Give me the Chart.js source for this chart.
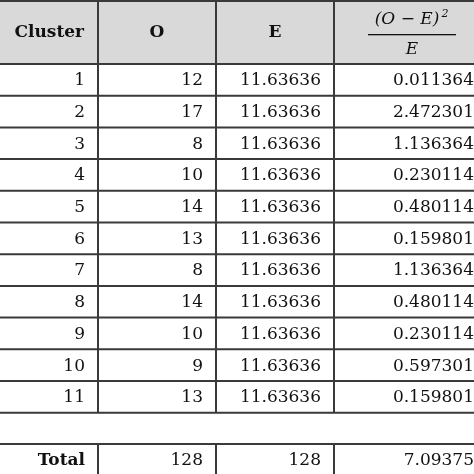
<!DOCTYPE html>
<html>
<head>
<meta charset="utf-8">
<script src="https://cdn.jsdelivr.net/npm/chart.js@4/dist/chart.umd.min.js"></script>
<style>html,body{margin:0;padding:0;background:#fff}</style>
</head>
<body>
<canvas id="tbl" width="474" height="474"></canvas>
<script>
// table data
const clusters = ["1","2","3","4","5","6","7","8","9","10","11"];
const observed = [12, 17, 8, 10, 14, 13, 8, 14, 10, 9, 13];
const expected = ["11.63636","11.63636","11.63636","11.63636","11.63636","11.63636","11.63636","11.63636","11.63636","11.63636","11.63636"];
const chiParts = ["0.011364","2.472301","1.136364","0.230114","0.480114","0.159801","1.136364","0.480114","0.230114","0.597301","0.159801"];
const totals = ["Total", "128", "128", "7.09375"];
const headers = ["Cluster", "O", "E"];

// grid in scale units
const colEdges = [0, 98, 216, 334, 490];
const headerBottom = 64;
const rowH = 31.7;
const totalTop = 444;

const tablePlugin = {
  id: "table",
  afterDraw(chart) {
    const c = chart.ctx, xs = chart.scales.x, ys = chart.scales.y;
    const X = v => xs.getPixelForValue(v), Y = v => ys.getPixelForValue(v);
    const lastRow = headerBottom + rowH * clusters.length;

    c.save();
    c.fillStyle = "#d9d9d9";
    c.fillRect(X(0), Y(1), X(474) - X(0), Y(headerBottom) - Y(1));

    // horizontal lines
    c.strokeStyle = "#3a3a3a";
    c.lineWidth = 2;
    const hl = [1, headerBottom];
    for (let i = 1; i <= clusters.length; i++) hl.push(headerBottom + rowH * i);
    hl.push(totalTop);
    c.beginPath();
    hl.forEach(y => { c.moveTo(X(0), Y(y)); c.lineTo(X(474), Y(y)); });
    // vertical lines
    colEdges.slice(1, 4).forEach(x => {
      c.moveTo(X(x), Y(1)); c.lineTo(X(x), Y(lastRow));
      c.moveTo(X(x), Y(totalTop)); c.lineTo(X(x), Y(474));
    });
    c.stroke();

    // header text
    c.fillStyle = "#111";
    c.textBaseline = "middle";
    c.font = "bold 17px 'DejaVu Serif'";
    c.textAlign = "right";
    c.fillText(headers[0], X(colEdges[1] - 14), Y(headerBottom / 2 + 1));
    c.textAlign = "center";
    c.fillText(headers[1], X((colEdges[1] + colEdges[2]) / 2), Y(headerBottom / 2 + 1));
    c.fillText(headers[2], X((colEdges[2] + colEdges[3]) / 2), Y(headerBottom / 2 + 1));
    // fraction
    const fx = X(412);
    c.font = "italic 17px 'DejaVu Serif'";
    c.fillText("(O \u2212 E)", fx - 5, Y(20));
    c.font = "italic 11px 'DejaVu Serif'";
    c.fillText("2", fx + 33, Y(14));
    c.fillRect(fx - 44, Y(34), 88, 1.3);
    c.font = "italic 17px 'DejaVu Serif'";
    c.fillText("E", fx, Y(50));

    // body rows
    c.font = "17px 'DejaVu Serif'";
    c.textAlign = "right";
    const drawRow = (cells, yc) => {
      cells.forEach((t, j) => {
        const pad = j === 3 ? 16 : 13;
        c.fillText(t, X(colEdges[j + 1] - pad), Y(yc));
      });
    };
    clusters.forEach((cl, i) => {
      drawRow([cl, String(observed[i]), expected[i], chiParts[i]], headerBottom + rowH * (i + 0.5) + 1);
    });
    c.font = "bold 17px 'DejaVu Serif'";
    c.fillText(totals[0], X(colEdges[1] - 13), Y(totalTop + 17));
    c.font = "17px 'DejaVu Serif'";
    drawRow(["", totals[1], totals[2], totals[3]], totalTop + 17);
    c.restore();
  }
};

new Chart(document.getElementById("tbl").getContext("2d"), {
  type: "scatter",
  data: { datasets: [{ data: [] }] },
  options: {
    responsive: false,
    animation: false,
    layout: { padding: 0 },
    plugins: { legend: { display: false }, tooltip: { enabled: false } },
    scales: {
      x: { type: "linear", min: 0, max: 474, display: false },
      y: { type: "linear", min: 0, max: 474, reverse: true, display: false }
    }
  },
  plugins: [tablePlugin]
});
</script>
</body>
</html>
